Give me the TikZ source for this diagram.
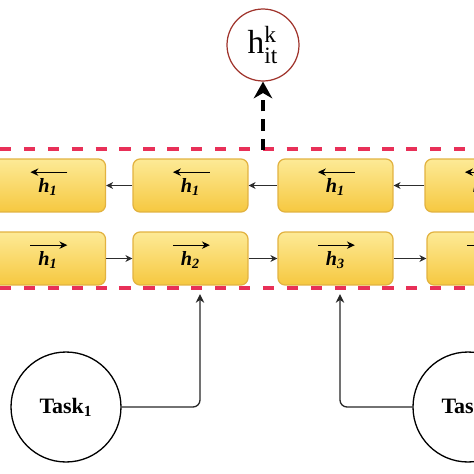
\documentclass[tikz,border=0pt]{standalone}
\usepackage{fontspec}
\usepackage{amsmath}
\setmainfont{Liberation Serif}
\usetikzlibrary{arrows.meta}
\definecolor{celltop}{RGB}{253,234,150}
\definecolor{cellbot}{RGB}{246,200,64}
\definecolor{cellline}{RGB}{226,178,64}
\definecolor{bandred}{RGB}{232,48,88}
\definecolor{outred}{RGB}{160,52,44}
\definecolor{linkgrey}{RGB}{45,45,45}
\tikzset{
  cell/.style={draw=cellline, line width=0.7pt, rounded corners=4pt,
    top color=celltop, bottom color=cellbot,
    minimum width=2.3cm, minimum height=1.06cm},
  lbl/.style={inner sep=0pt, font=\fontsize{11.5}{11.5}\selectfont\bfseries\itshape},
  hint/.style={draw=black, line width=0.7pt, -{Stealth[length=4.5pt,width=4.2pt]}},
  link/.style={draw=linkgrey, line width=0.6pt, -{Stealth[length=4pt,width=4pt]}},
  band/.style={draw=bandred, line width=2pt, dash pattern=on 6.4pt off 7.2pt},
  taskcirc/.style={circle, draw, line width=0.75pt, minimum size=2.2cm, inner sep=0pt,
    font=\fontsize{12.5}{12.5}\selectfont\bfseries},
  outcirc/.style={circle, draw=outred, line width=0.7pt, minimum size=1.44cm, inner sep=0pt,
    font=\fontsize{19}{19}\selectfont},
  feed/.style={draw=black!85, line width=0.75pt, rounded corners=4pt,
    -{Stealth[length=5pt,width=4.8pt]}},
  outflow/.style={draw=black, line width=1.8pt, dash pattern=on 6.5pt off 4.5pt,
    -{Stealth[length=9.5pt,width=10.5pt,inset=3pt]}}
}
\begin{document}
\begin{tikzpicture}[x=0.02cm, y=-0.02cm]
  \useasboundingbox (0,0) rectangle (474,474);
  \clip (0,0) rectangle (474,474);
  % dashed band
  \draw[band] (0,149) -- (474,149);
  \draw[band] (0,288) -- (474,288);
  % backward row
  \node[cell, label={[lbl, yshift=-1pt]center:h\textsubscript{1}}] (t1) at (48,185.5) {};
  \node[cell, label={[lbl, yshift=-1pt]center:h\textsubscript{1}}] (t2) at (190.5,185.5) {};
  \node[cell, label={[lbl, yshift=-1pt]center:h\textsubscript{1}}] (t3) at (335.5,185.5) {};
  \node[cell, label={[lbl, yshift=-1pt]center:h\textsubscript{1}}] (t4) at (482.5,185.5) {};
  % forward row
  \node[cell, label={[lbl, yshift=-1pt]center:h\textsubscript{1}}] (b1) at (48,258.5) {};
  \node[cell, label={[lbl, yshift=-1pt]center:h\textsubscript{2}}] (b2) at (190.5,258.5) {};
  \node[cell, label={[lbl, yshift=-1pt]center:h\textsubscript{3}}] (b3) at (335.5,258.5) {};
  \node[cell, label={[lbl, yshift=-1pt]center:h\textsubscript{4}}] (b4) at (484.5,258.5) {};
  % direction marks
  \foreach \c in {t1,t2,t3,t4}
    \draw[hint] ([shift={(11pt,7.6pt)}]\c.center) -- ([shift={(-10pt,7.6pt)}]\c.center);
  \foreach \c in {b1,b2,b3,b4}
    \draw[hint] ([shift={(-10pt,7.6pt)}]\c.center) -- ([shift={(11pt,7.6pt)}]\c.center);
  \begin{scope}
    \draw[link] (t2) to (t1);
    \draw[link] (t3) to (t2);
    \draw[link] (t4) to (t3);
    \draw[link] (b1) to (b2);
    \draw[link] (b2) to (b3);
    \draw[link] (b3) to (b4);
  \end{scope}
  % output
  \node[outcirc] (o) at (263,45) {h$^{\text{k}}_{\text{it}}$};
  \coordinate (top) at (263,150);
  \draw[outflow] (top) -- (o.south);
  % tasks
  \node[taskcirc] (k1) at (66,407) {Task\textsubscript{1}};
  \node[taskcirc] (k2) at (468,407) {Task\textsubscript{2}};
  \coordinate (in2) at (200,294);
  \coordinate (in3) at (340,294);
  \draw[feed] (k1.east) -| (in2);
  \draw[feed] (k2.west) -| (in3);
\end{tikzpicture}
\end{document}
